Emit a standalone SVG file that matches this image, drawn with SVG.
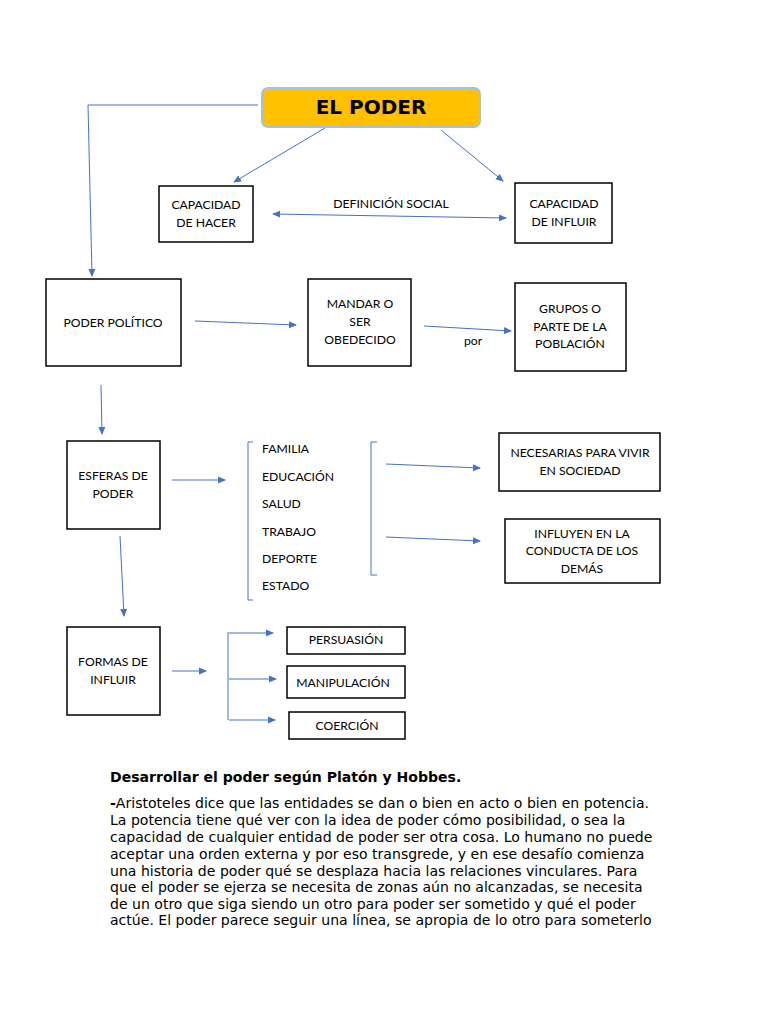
<svg xmlns="http://www.w3.org/2000/svg" width="768" height="1024" viewBox="0 0 768 1024">
<defs>
<marker id="ah" markerWidth="8" markerHeight="8" refX="7" refY="4" orient="auto" markerUnits="userSpaceOnUse"><path d="M0,0.5 L8,4 L0,7.5 Z" fill="#4472C4"/></marker>
<marker id="as" markerWidth="8" markerHeight="8" refX="1" refY="4" orient="auto" markerUnits="userSpaceOnUse"><path d="M8,0.5 L0,4 L8,7.5 Z" fill="#4472C4"/></marker>
<style>
.box{fill:#fff;stroke:#000;stroke-width:1.5}
.t{font-family:Lato,"Open Sans","Liberation Sans",sans-serif;font-size:12.2px;fill:#000;text-anchor:middle}
.tl{font-family:Lato,"Open Sans","Liberation Sans",sans-serif;font-size:12.2px;fill:#000}
.c{stroke:#4472C4;stroke-width:1;fill:none}
.a{marker-end:url(#ah)}
.body{font-family:"DejaVu Sans",sans-serif;font-size:14.05px;fill:#000}
</style>
</defs>
<rect width="768" height="1024" fill="#fff"/>
<g id="connectors">
<path class="c" d="M258,105 L88,105"/>
<path class="c a" d="M88,105 L92,276"/>
<path class="c a" d="M325,128 L234,182"/>
<path class="c a" d="M441,130 L503,181"/>
<path class="c a" d="M273,214 L506,218" style="marker-start:url(#as)"/>
<path class="c a" d="M195,321 L296,325"/>
<path class="c a" d="M424,326 L511,331"/>
<path class="c a" d="M101,385 L102,434"/>
<path class="c a" d="M172,480 L225,480"/>
<path class="c" d="M253,442 L248,442 L248,600 L253,600"/>
<path class="c" d="M377,442 L371,442 L371,575 L377,575"/>
<path class="c a" d="M386,464 L480,468"/>
<path class="c a" d="M386,537 L480,541"/>
<path class="c a" d="M120,536 L124,616"/>
<path class="c a" d="M172,671 L206,671"/>
<path class="c" d="M228,632 L228,720"/>
<path class="c a" d="M229,633 L273,633"/>
<path class="c a" d="M229,679 L276,679"/>
<path class="c a" d="M229,720 L275,720"/>
</g>
<g id="el-poder">
<rect x="262" y="88" width="218" height="39" rx="6" fill="#FFC000" stroke="#9DC3E6" stroke-width="2"/>
<text x="371" y="114" font-family="'DejaVu Sans',sans-serif" font-weight="bold" font-size="20" text-anchor="middle">EL PODER</text>
</g>
<g id="capacidad-hacer">
<rect class="box" x="159" y="186" width="94" height="56"/>
<text class="t" x="206" y="209">CAPACIDAD</text>
<text class="t" x="206" y="227">DE HACER</text>
</g>
<g id="definicion-social">
<text class="t" x="391" y="208">DEFINICIÓN SOCIAL</text>
</g>
<g id="capacidad-influir">
<rect class="box" x="515" y="183" width="97" height="60"/>
<text class="t" x="564" y="208">CAPACIDAD</text>
<text class="t" x="564" y="226">DE INFLUIR</text>
</g>
<g id="poder-politico">
<rect class="box" x="46" y="279" width="135" height="87"/>
<text class="t" x="113" y="327">PODER POLÍTICO</text>
</g>
<g id="mandar">
<rect class="box" x="308" y="279" width="103" height="87"/>
<text class="t" x="360" y="308">MANDAR O</text>
<text class="t" x="360" y="326">SER</text>
<text class="t" x="360" y="344">OBEDECIDO</text>
</g>
<g id="por">
<text class="t" x="473" y="345">por</text>
</g>
<g id="grupos">
<rect class="box" x="515" y="283" width="111" height="88"/>
<text class="t" x="570" y="313">GRUPOS O</text>
<text class="t" x="570" y="331">PARTE DE LA</text>
<text class="t" x="570" y="348">POBLACIÓN</text>
</g>
<g id="esferas">
<rect class="box" x="67" y="441" width="93" height="88"/>
<text class="t" x="113" y="480">ESFERAS DE</text>
<text class="t" x="113" y="498">PODER</text>
</g>
<g id="lista-esferas">
<text class="tl" x="262" y="453">FAMILIA</text>
<text class="tl" x="262" y="481">EDUCACIÓN</text>
<text class="tl" x="262" y="508">SALUD</text>
<text class="tl" x="262" y="536">TRABAJO</text>
<text class="tl" x="262" y="563">DEPORTE</text>
<text class="tl" x="262" y="590">ESTADO</text>
</g>
<g id="necesarias">
<rect class="box" x="499" y="433" width="161" height="58"/>
<text class="t" x="580" y="457">NECESARIAS PARA VIVIR</text>
<text class="t" x="580" y="475">EN SOCIEDAD</text>
</g>
<g id="influyen">
<rect class="box" x="505" y="519" width="155" height="64"/>
<text class="t" x="582" y="538">INFLUYEN EN LA</text>
<text class="t" x="582" y="555">CONDUCTA DE LOS</text>
<text class="t" x="582" y="573">DEMÁS</text>
</g>
<g id="formas">
<rect class="box" x="67" y="627" width="93" height="88"/>
<text class="t" x="113" y="666">FORMAS DE</text>
<text class="t" x="113" y="684">INFLUIR</text>
</g>
<g id="persuasion">
<rect class="box" x="287" y="627" width="118" height="27"/>
<text class="t" x="346" y="644">PERSUASIÓN</text>
</g>
<g id="manipulacion">
<rect class="box" x="287" y="666" width="118" height="32"/>
<text class="t" x="343" y="687">MANIPULACIÓN</text>
</g>
<g id="coercion">
<rect class="box" x="289" y="712" width="116" height="27"/>
<text class="t" x="347" y="730">COERCIÓN</text>
</g>
<g id="texto">
<text class="body" x="110" y="782" font-weight="bold">Desarrollar el poder según Platón y Hobbes.</text>
<text class="body" x="110" y="808"><tspan font-weight="bold">-</tspan>Aristoteles dice que las entidades se dan o bien en acto o bien en potencia.</text>
<text class="body" x="110" y="825">La potencia tiene qué ver con la idea de poder cómo posibilidad, o sea la</text>
<text class="body" x="110" y="842">capacidad de cualquier entidad de poder ser otra cosa. Lo humano no puede</text>
<text class="body" x="110" y="859">aceptar una orden externa y por eso transgrede, y en ese desafío comienza</text>
<text class="body" x="110" y="876">una historia de poder qué se desplaza hacia las relaciones vinculares. Para</text>
<text class="body" x="110" y="892">que el poder se ejerza se necesita de zonas aún no alcanzadas, se necesita</text>
<text class="body" x="110" y="909">de un otro que siga siendo un otro para poder ser sometido y qué el poder</text>
<text class="body" x="110" y="925">actúe. El poder parece seguir una línea, se apropia de lo otro para someterlo</text>
</g>
</svg>
